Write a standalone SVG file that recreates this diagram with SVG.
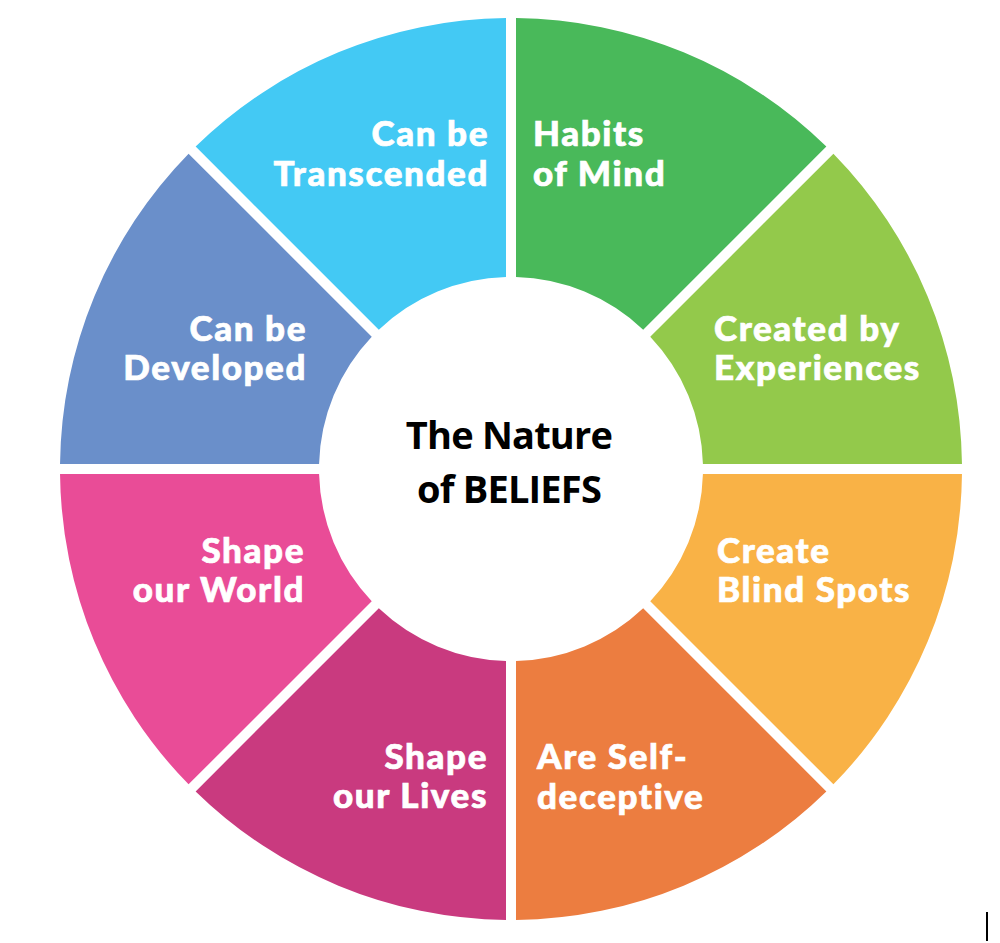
<svg xmlns="http://www.w3.org/2000/svg" xmlns:xlink="http://www.w3.org/1999/xlink" width="1000" height="943" viewBox="0 0 1000 943">
  <style>
    .lbl { font-family: Lato, "Open Sans", "Liberation Sans", sans-serif; font-weight: 900; font-size: 35px; fill: #ffffff; stroke: #ffffff; stroke-width: 0.7px; letter-spacing: 1.6px; }
    .r { text-anchor: end; }
    .l { text-anchor: start; }
    .ctr { font-family: "Open Sans", "Liberation Sans", sans-serif; font-weight: 700; font-size: 38px; fill: #000000; text-anchor: middle; letter-spacing: -0.8px; }
  </style>
  <defs>
    <path id="seg" d="M 5,-450.97 A 451 451 0 0 1 315.35,-322.42 L 132.18,-139.25 A 192 192 0 0 0 5,-191.93 Z"/>
  </defs>
  <rect width="1000" height="943" fill="#ffffff"/>

  <g id="habits">
    <use xlink:href="#seg" transform="translate(511 469) rotate(0)" fill="#49B95A"/>
    <text class="lbl l" x="533" y="146">Habits</text>
    <text class="lbl l" x="533" y="186">of Mind</text>
  </g>
  <g id="experiences">
    <use xlink:href="#seg" transform="translate(511 469) rotate(45)" fill="#93C94B"/>
    <text class="lbl l" x="714" y="341">Created by</text>
    <text class="lbl l" x="714" y="380">Experiences</text>
  </g>
  <g id="blindspots">
    <use xlink:href="#seg" transform="translate(511 469) rotate(90)" fill="#F9B246"/>
    <text class="lbl l" x="717" y="563">Create</text>
    <text class="lbl l" x="717" y="602">Blind Spots</text>
  </g>
  <g id="selfdeceptive">
    <use xlink:href="#seg" transform="translate(511 469) rotate(135)" fill="#EC7D40"/>
    <text class="lbl l" x="537" y="769">Are Self-</text>
    <text class="lbl l" x="537" y="809">deceptive</text>
  </g>
  <g id="lives">
    <use xlink:href="#seg" transform="translate(511 469) rotate(180)" fill="#C93A7F"/>
    <text class="lbl r" x="488" y="769">Shape</text>
    <text class="lbl r" x="488" y="808">our Lives</text>
  </g>
  <g id="world">
    <use xlink:href="#seg" transform="translate(511 469) rotate(225)" fill="#E94C97"/>
    <text class="lbl r" x="305" y="563">Shape</text>
    <text class="lbl r" x="305" y="602">our World</text>
  </g>
  <g id="developed">
    <use xlink:href="#seg" transform="translate(511 469) rotate(270)" fill="#6A8FCA"/>
    <text class="lbl r" x="307" y="341">Can be</text>
    <text class="lbl r" x="307" y="380">Developed</text>
  </g>
  <g id="transcended">
    <use xlink:href="#seg" transform="translate(511 469) rotate(315)" fill="#43C9F4"/>
    <text class="lbl r" x="489" y="146">Can be</text>
    <text class="lbl r" x="489" y="186">Transcended</text>
  </g>

  <g id="center">
    <text class="ctr" x="509" y="449">The Nature</text>
    <text class="ctr" x="509" y="503">of BELIEFS</text>
  </g>

  <g id="connectors"></g>

  <line x1="987" y1="912" x2="987" y2="941" stroke="#000000" stroke-width="2"/>
</svg>
